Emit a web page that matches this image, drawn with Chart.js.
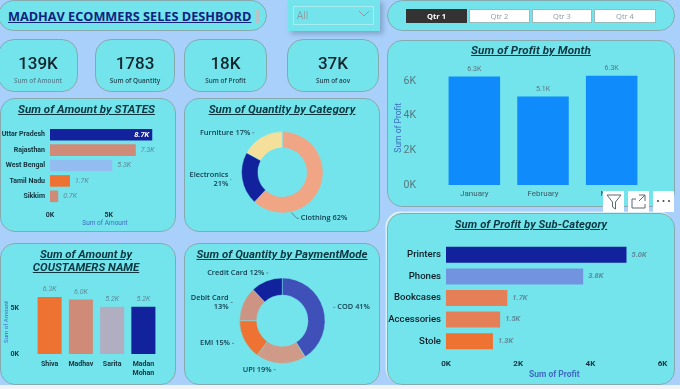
<!DOCTYPE html>
<html><head><meta charset="utf-8">
<script src="https://cdn.jsdelivr.net/npm/chart.js@4/dist/chart.umd.js"></script>
<style>
html,body{margin:0;padding:0;width:680px;height:389px;overflow:hidden;background:#a9d0fb;font-family:"Open Sans",sans-serif}
#stage{position:absolute;left:0;top:0;width:680px;height:389px;filter:blur(.45px)}
.p{position:absolute;box-sizing:border-box;background:#74e4ec;border:1px solid #86a9ad;border-radius:15px}
canvas{position:absolute;left:0;top:0}
.t{position:absolute;left:0;right:0;text-align:center;font:italic 700 12px Roboto,sans-serif;color:#0c3640;text-decoration:underline;white-space:nowrap;z-index:2;line-height:13px}
.kv{position:absolute;left:0;right:0;top:13px;text-align:center;font:500 17px Roboto,sans-serif;color:#10262c;line-height:20px}
.kl{position:absolute;left:0;right:0;top:36px;text-align:center;font:600 6.4px "Open Sans",sans-serif;color:#1f3f4a;line-height:9px}
.q{position:absolute;top:9px;height:14px;box-sizing:border-box;background:#fff;border:1px solid #9bb;text-align:center;font:500 7.5px/12px "Open Sans",sans-serif;color:#8a9a9f}
.ic{position:absolute;top:191px;width:21px;height:21px;background:#fff;z-index:5}
</style></head><body>
<div id="stage">
 <div class="p" style="left:-2px;top:0;width:269px;height:31px;border-radius:16px">
  <div style="position:absolute;left:9px;top:6px;font:700 12.7px/18px 'Open Sans',sans-serif;color:#12227e;text-decoration:underline;white-space:nowrap" id="mainTitle"></div>
  <div style="position:absolute;left:257px;top:8px;width:4px;height:14px;background:#b9c4c8"></div>
 </div>
 <div style="position:absolute;left:288px;top:-1px;width:92px;height:32px;background:#74e4ec;box-shadow:3px 3px 5px rgba(80,110,140,.45)">
  <div style="position:absolute;left:5px;top:7px;width:79px;height:17px;border:1px solid #a4eef2;font:400 10px/17px 'Open Sans',sans-serif;color:#8b9da3;text-indent:3px">All
   <svg style="position:absolute;right:3px;top:2px" width="12" height="10"><path d="M1 2 L6 7 L11 2" fill="none" stroke="#8b9da3" stroke-width="1"/></svg>
  </div>
 </div>
 <div class="p" style="left:387px;top:0;width:288px;height:31px;border-radius:16px"></div>
 <div id="qtr"></div>
 <div id="panels"></div>
 <div class="ic" style="left:603px"><svg width="21" height="21"><path d="M4 4 H18 L12.5 11 V18 L9.5 16 V11 Z" fill="none" stroke="#5b6a70" stroke-width="1"/></svg></div>
 <div class="ic" style="left:628px"><svg width="21" height="21"><path d="M4 8 V17 H17 V13 M4 8 H8 M11 4 H17 V10 M17 4 L11 10" fill="none" stroke="#5b6a70" stroke-width="1"/></svg></div>
 <div class="ic" style="left:653px"><svg width="21" height="21"><circle cx="5" cy="10" r="1" fill="#444"/><circle cx="10.5" cy="10" r="1" fill="#444"/><circle cx="16" cy="10" r="1" fill="#444"/></svg></div>
 <div style="position:absolute;left:0;top:385px;width:680px;height:4px;background:#f1f3f8;z-index:6"></div>
</div>
<script>
// ---- data ----
const mainTitle = "MADHAV ECOMMERS SELES DESHBORD";
const kpiValues = ["139K","1783","18K","37K"];
const kpiLabels = ["Sum of Amount","Sum of Quantity","Sum of Profit","Sum of aov"];
const quarters = ["Qtr 1","Qtr 2","Qtr 3","Qtr 4"];

const stateNames = ["Uttar Pradesh","Rajasthan","West Bengal","Tamil Nadu","Sikkim"];
const stateAmount = [8.7,7.3,5.3,1.7,0.7];
const stateColors = ["#12229c","#d08a78","#93bdf0","#ee7232","#d08a78"];

const customerNames = ["Shiva","Madhav","Sarita",["Madan","Mohan"]];
const customerAmount = [6.3,6.0,5.2,5.2];
const customerColors = ["#ee7232","#cf8a78","#b0aec0","#12229c"];

const monthNames = ["January","February","March"];
const monthProfit = [6.26,5.1,6.3];
const monthColors = ["#0f8bfb","#0f8bfb","#0f8bfb"];

const subCategoryNames = ["Printers","Phones","Bookcases","Accessories","Stole"];
const subCategoryProfit = [5.0,3.8,1.7,1.5,1.3];
const subCategoryColors = ["#12229c","#7293de","#e47f58","#e47f58","#ee7232"];

const categoryNames = ["Clothing","Electronics","Furniture"];
const categoryShare = [62,21,17];
const categoryColors = ["#f0a585","#12229c","#f4e09a"];

const paymentNames = ["COD","UPI","EMI","Debit Card","Credit Card"];
const paymentShare = [41,19,15,13,12];
const paymentColors = ["#3f51b8","#cf9a88","#ee7232","#cd9483","#12229c"];

// ---- layout ----
const stage = document.getElementById('panels');
document.getElementById('mainTitle').textContent = mainTitle;
const kpiBoxes = [[-2,39,80,53],[95,39,80,53],[184,39,83,53],[287,39,92,53]];
kpiBoxes.forEach((b,i)=>{
  const d=document.createElement('div');d.className='p';
  d.style.cssText=`left:${b[0]}px;top:${b[1]}px;width:${b[2]}px;height:${b[3]}px;border-radius:16px`;
  d.innerHTML=`<div class="kv">${kpiValues[i]}</div><div class="kl"${i==0?' style="color:#55808f"':''}>${kpiLabels[i]}</div>`;
  stage.appendChild(d);
});
const qx=[406,469,532,594], qw=[61,61,60,62];
quarters.forEach((q,i)=>{
  const d=document.createElement('div');d.className='q';d.textContent=q;
  d.style.left=qx[i]+'px';d.style.width=qw[i]+'px';
  if(i==0){d.style.background='#333';d.style.color='#fff';d.style.fontWeight='700';d.style.borderColor='#333';}
  document.getElementById('qtr').appendChild(d);
});
function panel(box,titleLines,titleTop,size,spacing,titleRight,outline){
  const d=document.createElement('div');d.className='p';
  d.style.cssText=`left:${box[0]}px;top:${box[1]}px;width:${box[2]}px;height:${box[3]}px`;
  if(outline)d.style.boxShadow=outline;
  titleLines.forEach((s,i)=>{
    const t=document.createElement('div');t.className='t';t.textContent=s;
    t.style.top=(titleTop+i*13-1)+'px';
    t.style.right=(titleRight||0)+'px';
    t.style.fontSize=size+'px';t.style.letterSpacing=(spacing||0)+'px';
    d.appendChild(t);
  });
  const c=document.createElement('canvas');c.width=box[2];c.height=box[3];
  c.style.left='-1px';c.style.top='-1px';
  d.appendChild(c);stage.appendChild(d);
  return c;
}
const fmtK=v=>v.toFixed(1)+'K';
const barLabels={id:'barLabels',afterDatasetsDraw(ch,_,o){
  const ctx=ch.ctx,m=ch.getDatasetMeta(0),d=ch.data.datasets[0].data;
  ctx.save();ctx.font=o.font;ctx.fillStyle=o.color;
  m.data.forEach((el,i)=>{
    const s=fmtK(d[i]);
    if(ch.options.indexAxis==='y'){
      ctx.textBaseline='middle';
      if(o.insideFirst&&i==0){ctx.textAlign='right';ctx.fillStyle='#fff';ctx.font=o.insideFont;ctx.fillText(s,el.x-3,el.y);ctx.fillStyle=o.color;ctx.font=o.font;}
      else{ctx.textAlign='left';ctx.fillText(s,el.x+o.gap,el.y);}
    }else{ctx.textAlign='center';ctx.textBaseline='bottom';ctx.fillText(s,el.x,el.y-o.gap);}
  });
  ctx.restore();
}};
function bar(cfg){
  const c=panel(cfg.box,cfg.title,cfg.titleTop,cfg.titleSize,cfg.titleSpacing,cfg.titleRight,cfg.outline);
  const [bx,by]=cfg.box, [l,t,r,b]=cfg.plot;
  const pl=l-bx, pt=t-by, pr=cfg.box[2]-(r-bx), pb=cfg.box[3]-(b-by);
  const horiz=cfg.horizontal;
  const catAxis={type:'category',grid:{display:false,drawTicks:false},border:{display:false},
    ticks:{autoSkip:false,maxRotation:0,minRotation:0,font:cfg.catFont,color:cfg.catColor,padding:cfg.catPad}};
  const valAxis={type:'linear',min:0,max:cfg.max,grid:{display:false,drawTicks:false},border:{display:false},
    ticks:{stepSize:cfg.step,includeBounds:false,font:cfg.valFont,color:cfg.valColor,padding:cfg.valPad,callback:v=>v+'K'},
    title:cfg.axisTitle?{display:true,text:cfg.axisTitle,font:cfg.axisFont,color:'#3f6cc0',padding:{top:0,bottom:0}}:{display:false}};
  const W=cfg.leftW, H=cfg.bottomH;
  const xAx=horiz?valAxis:catAxis, yAx=horiz?catAxis:valAxis;
  const noOverhang=s=>{s.paddingLeft=s.paddingRight=s.paddingTop=s.paddingBottom=0};
  yAx.afterFit=s=>{s.width=W;noOverhang(s)}; xAx.afterFit=s=>{s.height=H;noOverhang(s)};
  return new Chart(c,{type:'bar',data:{labels:cfg.labels,datasets:[{data:cfg.data,backgroundColor:cfg.colors,barPercentage:cfg.barPct,categoryPercentage:1}]},
    options:{indexAxis:horiz?'y':'x',responsive:false,animation:false,
      layout:{padding:{left:pl-W,top:pt,right:pr,bottom:pb-H}},
      scales:{x:xAx,y:yAx},
      plugins:{legend:{display:false},tooltip:{enabled:false},barLabels:cfg.labelOpts}},
    plugins:[barLabels]});
}
bar({box:[0,98,176,134],title:["Sum of Amount by STATES"],titleTop:5,titleSize:11.6,titleRight:3,
 plot:[50,127,160,204],horizontal:true,labels:stateNames,data:stateAmount,colors:stateColors,barPct:.75,max:9.36,step:5,
 catFont:{family:'Roboto',size:7,weight:'700'},catColor:'#14323c',catPad:5,
 valFont:{family:'Roboto',size:7,weight:'700'},valColor:'#14323c',valPad:7,
 axisTitle:'Sum of Amount',axisFont:{family:'Roboto',size:6.5},leftW:50,bottomH:23,
 labelOpts:{font:'italic 7px Roboto',color:'#5f8a98',gap:5,insideFirst:true,insideFont:'italic 700 7.5px Roboto'}});
bar({box:[0,243,176,142],title:["Sum of Amount by","COUSTAMERS NAME"],titleTop:5,titleSize:11.4,titleRight:4,
 plot:[34,290,159,354],horizontal:false,labels:customerNames,data:customerAmount,colors:customerColors,barPct:.77,max:7.06,step:5,
 catFont:{family:'Roboto',size:7,weight:'700',lineHeight:1.3},catColor:'#14323c',catPad:6,
 valFont:{family:'Roboto',size:7,weight:'700'},valColor:'#14323c',valPad:15,
 axisTitle:'Sum of Amount',axisFont:{family:'Roboto',size:6},leftW:31,bottomH:30,
 labelOpts:{font:'italic 7px Roboto',color:'#5f8a98',gap:4}});
bar({box:[387,40,288,167],title:["Sum of Profit by Month"],titleTop:4,titleSize:11.6,titleSpacing:.1,
 plot:[440,70.6,646,185],horizontal:false,labels:monthNames,data:monthProfit,colors:monthColors,barPct:.75,max:6.6,step:2,
 catFont:{family:'Roboto',size:8},catColor:'#3d5a66',catPad:4,
 valFont:{family:'Roboto',size:10.5},valColor:'#57787f',valPad:24,
 axisTitle:'Sum of Profit',axisFont:{family:'Roboto',size:8.5},leftW:46,bottomH:20,
 labelOpts:{font:'7px Roboto',color:'#5a7480',gap:4}});
bar({box:[387,213,288,172],title:["Sum of Profit by Sub-Category"],titleTop:5,titleSize:11.2,titleSpacing:.1,outline:'-1.5px -1.5px 0 #d8f0f6',
 plot:[446,244,662.6,352],horizontal:true,labels:subCategoryNames,data:subCategoryProfit,colors:subCategoryColors,barPct:.74,max:6,step:2,
 catFont:{family:'Roboto',size:9.6,weight:'500'},catColor:'#101f28',catPad:5,
 valFont:{family:'Roboto',size:8,weight:'700'},valColor:'#14323c',valPad:7,
 axisTitle:'Sum of Profit',axisFont:{family:'Roboto',size:8.5,weight:'700'},leftW:59,bottomH:28,
 labelOpts:{font:'italic 700 7.5px Roboto',color:'#5f8a98',gap:5}});

// doughnut labels: text offsets are relative to the arc centre, leader starts on the arc
const donutLabels={id:'donutLabels',afterDatasetsDraw(ch,_,o){
  const ctx=ch.ctx,m=ch.getDatasetMeta(0);
  ctx.save();ctx.font=o.font;ctx.textBaseline='middle';
  m.data.forEach((el,i)=>{
    const L=o.items[i], f=L.at===undefined?.5:L.at;
    const a=el.startAngle+(el.endAngle-el.startAngle)*f;
    const ax=el.x+Math.cos(a)*(el.outerRadius+.5), ay=el.y+Math.sin(a)*(el.outerRadius+.5);
    const tx=el.x+L.dx, ty=el.y+L.dy, sign=L.align==='left'?-1:1;
    const midY=ty+(L.lines.length-1)*o.lh/2;
    ctx.strokeStyle='#5f868e';ctx.lineWidth=1;ctx.beginPath();ctx.moveTo(ax,ay);
    ctx.lineTo(tx+sign*L.gap*.5,midY);ctx.lineTo(tx+sign*2,midY);ctx.stroke();
    ctx.fillStyle='#0e3a4a';ctx.textAlign=L.align;
    L.lines.forEach((s,j)=>ctx.fillText(s,tx,ty+j*o.lh));
  });
  ctx.restore();
}};
function donut(cfg){
  const c=panel(cfg.box,cfg.title,cfg.titleTop,cfg.titleSize,cfg.titleSpacing);
  const [bx,by,bw,bh]=cfg.box,[cx,cy]=cfg.center,r=cfg.radius;
  return new Chart(c,{type:'doughnut',data:{labels:cfg.labels,datasets:[{data:cfg.data,backgroundColor:cfg.colors,borderWidth:.5,borderColor:'#74e4ec'}]},
   options:{responsive:false,animation:false,cutout:cfg.cutout,
    layout:{padding:{left:cx-r-bx,top:cy-r-by,right:bw-(cx+r-bx),bottom:bh-(cy+r-by)}},
    plugins:{legend:{display:false},tooltip:{enabled:false},donutLabels:{font:cfg.font,lh:9.5,items:cfg.items}}},
   plugins:[donutLabels]});
}
donut({box:[184,98,196,134],title:["Sum of Quantity by Category"],titleTop:5,titleSize:11.5,titleSpacing:.1,center:[282.3,172.3],radius:41,cutout:'60%',
 labels:categoryNames,data:categoryShare,colors:categoryColors,font:'600 7.4px "Open Sans"',items:[
  {lines:[categoryNames[0]+' '+categoryShare[0]+'%'],dx:18.5,dy:46,align:'left',gap:8,at:.75},
  {lines:[categoryNames[1],categoryShare[1]+'%'],dx:-54,dy:2.5,align:'right',gap:6},
  {lines:[categoryNames[2]+' '+categoryShare[2]+'%'],dx:-32,dy:-39.5,align:'right',gap:8}]});
donut({box:[184,243,196,142],title:["Sum of Quantity by PaymentMode"],titleTop:5,titleSize:11.4,titleSpacing:.05,center:[282.3,320.7],radius:43,cutout:'60%',
 labels:paymentNames,data:paymentShare,colors:paymentColors,font:'600 7.4px "Open Sans"',items:[
  {lines:[paymentNames[0]+' '+paymentShare[0]+'%'],dx:55,dy:-13.4,align:'left',gap:8},
  {lines:[paymentNames[1]+' '+paymentShare[1]+'%'],dx:-10.6,dy:49,align:'right',gap:8},
  {lines:[paymentNames[2]+' '+paymentShare[2]+'%'],dx:-52.3,dy:22.6,align:'right',gap:8},
  {lines:[paymentNames[3],paymentShare[3]+'%'],dx:-53.6,dy:-23,align:'right',gap:8},
  {lines:[paymentNames[4]+' '+paymentShare[4]+'%'],dx:-18,dy:-47.7,align:'right',gap:8}]});
</script>
</body></html>
